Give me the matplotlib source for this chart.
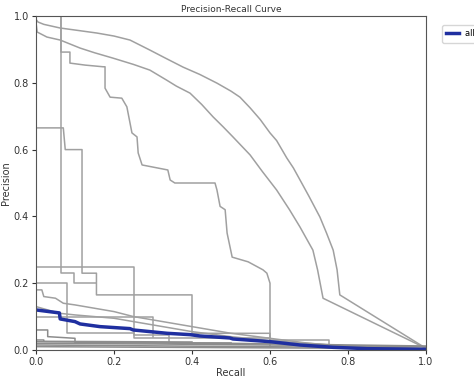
import matplotlib
matplotlib.use('agg')
import matplotlib.pyplot as plt

# precision-recall curves (recall list, precision list)
outer_r = [0, 0.005, 0.02, 0.062, 0.1, 0.156, 0.2, 0.241, 0.292, 0.33, 0.377, 0.42, 0.464, 0.5,
           0.523, 0.549, 0.575, 0.6, 0.617, 0.643, 0.66, 0.677, 0.7, 0.728, 0.745, 0.762, 0.772,
           0.779, 1.0]
outer_p = [0.99, 0.982, 0.975, 0.964, 0.958, 0.949, 0.94, 0.928, 0.898, 0.875, 0.847, 0.825, 0.799,
           0.775, 0.757, 0.725, 0.69, 0.65, 0.627, 0.575, 0.545, 0.509, 0.46, 0.398, 0.35, 0.299,
           0.24, 0.165, 0.005]

inner_r = [0, 0.003, 0.028, 0.062, 0.113, 0.15, 0.197, 0.25, 0.292, 0.335, 0.36, 0.395, 0.425,
           0.454, 0.48, 0.505, 0.549, 0.58, 0.617, 0.65, 0.677, 0.71, 0.722, 0.736, 1.0]
inner_p = [0.98, 0.952, 0.937, 0.928, 0.904, 0.89, 0.874, 0.855, 0.838, 0.808, 0.79, 0.769, 0.735,
           0.698, 0.668, 0.638, 0.584, 0.535, 0.479, 0.42, 0.368, 0.299, 0.24, 0.155, 0.005]

step_r = [0, 0.064, 0.064, 0.087, 0.087, 0.126, 0.172, 0.177, 0.177, 0.19, 0.22, 0.233, 0.246,
          0.259, 0.262, 0.272, 0.338, 0.344, 0.356, 0.459, 0.464, 0.472, 0.485, 0.49, 0.503,
          0.544, 0.582, 0.592, 0.6, 0.6]
step_p = [1.0, 1.0, 0.892, 0.892, 0.859, 0.853, 0.848, 0.848, 0.784, 0.757, 0.754, 0.728, 0.65,
          0.638, 0.59, 0.554, 0.539, 0.509, 0.5, 0.5, 0.479, 0.43, 0.42, 0.35, 0.278,
          0.264, 0.24, 0.23, 0.2, 0.02]

box1_r = [0, 0.07, 0.075, 0.118, 0.118, 0.155, 0.155, 0.4, 0.4, 0.6, 0.6]
box1_p = [0.665, 0.665, 0.6, 0.6, 0.23, 0.23, 0.165, 0.165, 0.05, 0.05, 0.01]

box2_r = [0, 0.064, 0.064, 0.097, 0.097, 0.155]
box2_p = [1.0, 1.0, 0.23, 0.23, 0.2, 0.2]

box3_r = [0, 0.25, 0.25, 0.34, 0.34, 0.5]
box3_p = [0.248, 0.248, 0.045, 0.045, 0.02, 0.02]

box4_r = [0, 0.08, 0.08, 0.25, 0.25, 0.6, 0.6, 0.75, 0.75]
box4_p = [0.2, 0.2, 0.05, 0.05, 0.035, 0.035, 0.03, 0.03, 0.008]

box5_r = [0, 0.1, 0.1, 0.3, 0.3]
box5_p = [0.1, 0.1, 0.1, 0.1, 0.04]

slope1_r = [0, 0.015, 0.02, 0.05, 0.07, 0.1, 0.15, 0.2, 0.25, 0.3, 0.35, 0.4, 0.45, 0.5, 0.6, 0.7,
            0.8, 1.0]
slope1_p = [0.18, 0.18, 0.16, 0.155, 0.14, 0.135, 0.125, 0.115, 0.1, 0.09, 0.08, 0.07, 0.06, 0.05,
            0.035, 0.02, 0.01, 0.003]

slope2_r = [0, 0.03, 0.06, 0.1, 0.15, 0.2, 0.25, 0.3, 0.35, 0.4, 0.5, 0.6, 0.8, 1.0]
slope2_p = [0.13, 0.12, 0.11, 0.105, 0.1, 0.095, 0.085, 0.075, 0.065, 0.055, 0.04, 0.028, 0.012, 0.003]

low_r = [
    [0, 0.03, 0.03, 0.1, 0.1, 0.5],
    [0, 0.5, 1.0],
    [0, 0.3, 0.6, 1.0],
    [0, 0.8, 1.0],
    [0, 1.0],
    [0, 0.02, 0.02, 0.4],
]
low_p = [
    [0.06, 0.06, 0.04, 0.035, 0.022, 0.02],
    [0.025, 0.02, 0.012],
    [0.02, 0.018, 0.015, 0.01],
    [0.015, 0.008, 0.005],
    [0.01, 0.004],
    [0.03, 0.03, 0.026, 0.024],
]

# "all classes" curve (blue)
all_r = [0, 0.06, 0.062, 0.1, 0.113, 0.164, 0.241, 0.249, 0.336, 0.395, 0.42, 0.497, 0.505, 0.6,
         0.677, 0.762, 0.85, 1.0]
all_p = [0.12, 0.111, 0.093, 0.085, 0.078, 0.07, 0.064, 0.06, 0.05, 0.046, 0.042, 0.036, 0.033,
         0.025, 0.015, 0.008, 0.004, 0.002]

gray = '#a0a0a0'

fig = plt.figure(figsize=(4.74, 3.80), dpi=100)
ax = fig.add_axes([36 / 474, 1 - 350 / 380, 390 / 474, 334 / 380])

for r, p in [(outer_r, outer_p), (inner_r, inner_p), (step_r, step_p),
             (box1_r, box1_p), (box2_r, box2_p), (box3_r, box3_p),
             (box4_r, box4_p), (box5_r, box5_p),
             (slope1_r, slope1_p), (slope2_r, slope2_p)]:
    ax.plot(r, p, color=gray, linewidth=1.1)
for r, p in zip(low_r, low_p):
    ax.plot(r, p, color='#8c8c8c', linewidth=1.1)

ax.plot(all_r, all_p, color='#1f2fa0', linewidth=2.5, label='all classes')

ax.set_xlim(0, 1)
ax.set_ylim(0, 1)
ax.set_xticks([0, 0.2, 0.4, 0.6, 0.8, 1.0])
ax.set_yticks([0, 0.2, 0.4, 0.6, 0.8, 1.0])
ax.tick_params(labelsize=7, length=3, pad=2, colors='#333333')
for s in ax.spines.values():
    s.set_color('#555555')

ax.set_title('Precision-Recall Curve', fontsize=6.5, color='#333333', pad=3)
ax.set_xlabel('Recall', fontsize=7, color='#333333', labelpad=1)
ax.set_ylabel('Precision', fontsize=7, color='#333333', labelpad=2)

ax.legend(loc='upper left', bbox_to_anchor=(1.03, 0.985), fontsize=6, frameon=True,
          handlelength=1.5, borderpad=0.5)

fig.savefig('out.png', dpi=100)
